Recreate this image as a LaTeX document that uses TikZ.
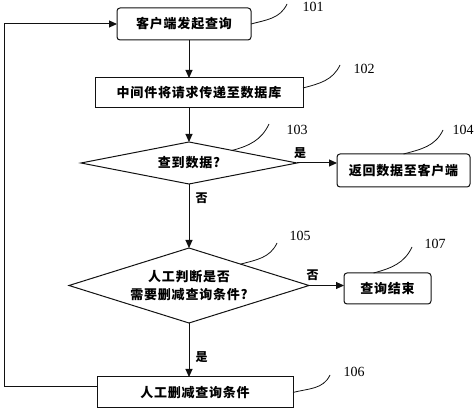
\documentclass[tikz,border=0pt]{standalone}
\usepackage{fontspec}
\setmainfont{Liberation Serif}
\newfontfamily\cjk{Noto Sans CJK SC}[LetterSpace=6]
\usetikzlibrary{
    shapes.geometric, arrows.meta, positioning, calc
}
\definecolor{inkBlack}{HTML}{111111}
\newcommand{\DrawLeader}[2]{
    \draw[inkBlack, line width=0.8pt] (#1) to[out=15, in=-115] (#2);
}
\tikzset{
    stepbox/.style={draw=inkBlack, line width=1pt, outer sep=0pt, inner sep=2pt,
        font=\cjk\bfseries\fontsize{13}{15}\selectfont},
    roundbox/.style={stepbox, rounded corners=3pt},
    decision/.style={stepbox, diamond, inner sep=0pt, align=center},
    flow/.style={draw=inkBlack, line width=1pt, -{Triangle[length=8pt, width=7pt]}},
    answer/.style={font=\cjk\bfseries\fontsize{12}{14}\selectfont, inner sep=1pt},
    refnum/.style={font=\fontsize{14}{16}\selectfont, inner sep=0pt}
}

\begin{document}
\begin{tikzpicture}[x=1pt, y=-1pt]
        \useasboundingbox (0,0) rectangle (474,411);

        % Boxes and decisions
        \node[roundbox, minimum width=134pt, minimum height=32pt] (b101) at (184,24) {客户端发起查询};
        \node[stepbox, minimum width=208pt, minimum height=30pt] (b102) at (199,93) {中间件将请求传递至数据库};
        \node[decision, aspect=5, minimum width=216pt, minimum height=42pt] (d103) at (189,163) {查到数据?};
        \node[roundbox, minimum width=133pt, minimum height=33pt] (b104) at (403.5,170.5) {返回数据至客户端};
        \node[decision, aspect=3.2, minimum width=240pt, minimum height=75pt] (d105) at (189,285.5)
            {人工判断是否\\[3pt]需要删减查询条件?};
        \node[roundbox, minimum width=87pt, minimum height=31pt] (b107) at (387.5,288.5) {查询结束};
        \node[stepbox, minimum width=196pt, minimum height=31pt] (b106) at (195,392.5) {人工删减查询条件};

        % Flow
        \draw[flow] (b101.south -| 189,0) -- (b102.north -| 189,0);
        \draw[flow] (b102.south -| 189,0) -- (d103.north);
        \draw[flow] (d103.east) -- node[answer, pos=0.08, above=3pt] {是} (d103.east -| b104.west);
        \draw[flow] (d103.south) -- node[answer, pos=0.22, right=5pt] {否} (d105.north);
        \draw[flow] (d105.east) -- node[answer, pos=0.1, above=3pt] {否} (d105.east -| b107.west);
        \draw[flow] (d105.south) -- node[answer, pos=0.63, right=5pt] {是} (d105.south |- b106.north);

        % Back to the client
        \coordinate (loop) at (4,387);
        \draw[flow] (b106.west |- loop) -- (loop) |- (b101.west);

        % Reference numbers
        \node[refnum] (n101) at (313,7) {101};
        \node[refnum] (n102) at (364,69) {102};
        \node[refnum] (n103) at (297,130) {103};
        \node[refnum] (n104) at (463,130) {104};
        \node[refnum] (n105) at (300,236) {105};
        \node[refnum] (n107) at (435,244) {107};
        \node[refnum] (n106) at (354,372) {106};

        \coordinate (e101) at (287,4);
        \coordinate (e102) at (340,65);
        \coordinate (e103) at (269,124);
        \coordinate (e104) at (443,130);
        \coordinate (e105) at (277,243);
        \coordinate (e107) at (412,247);
        \coordinate (e106) at (330,375);

        \DrawLeader{b101.east}{e101}
        \DrawLeader{[yshift=5pt]b102.east}{e102}
        \DrawLeader{$(d103.north)!0.4!(d103.east)$}{e103}
        \DrawLeader{b104.north}{e104}
        \DrawLeader{$(d105.north)!0.43!(d105.east)$}{e105}
        \DrawLeader{[xshift=-14pt]b107.north}{e107}
        \DrawLeader{b106.east}{e106}

    \end{tikzpicture}
\end{document}
